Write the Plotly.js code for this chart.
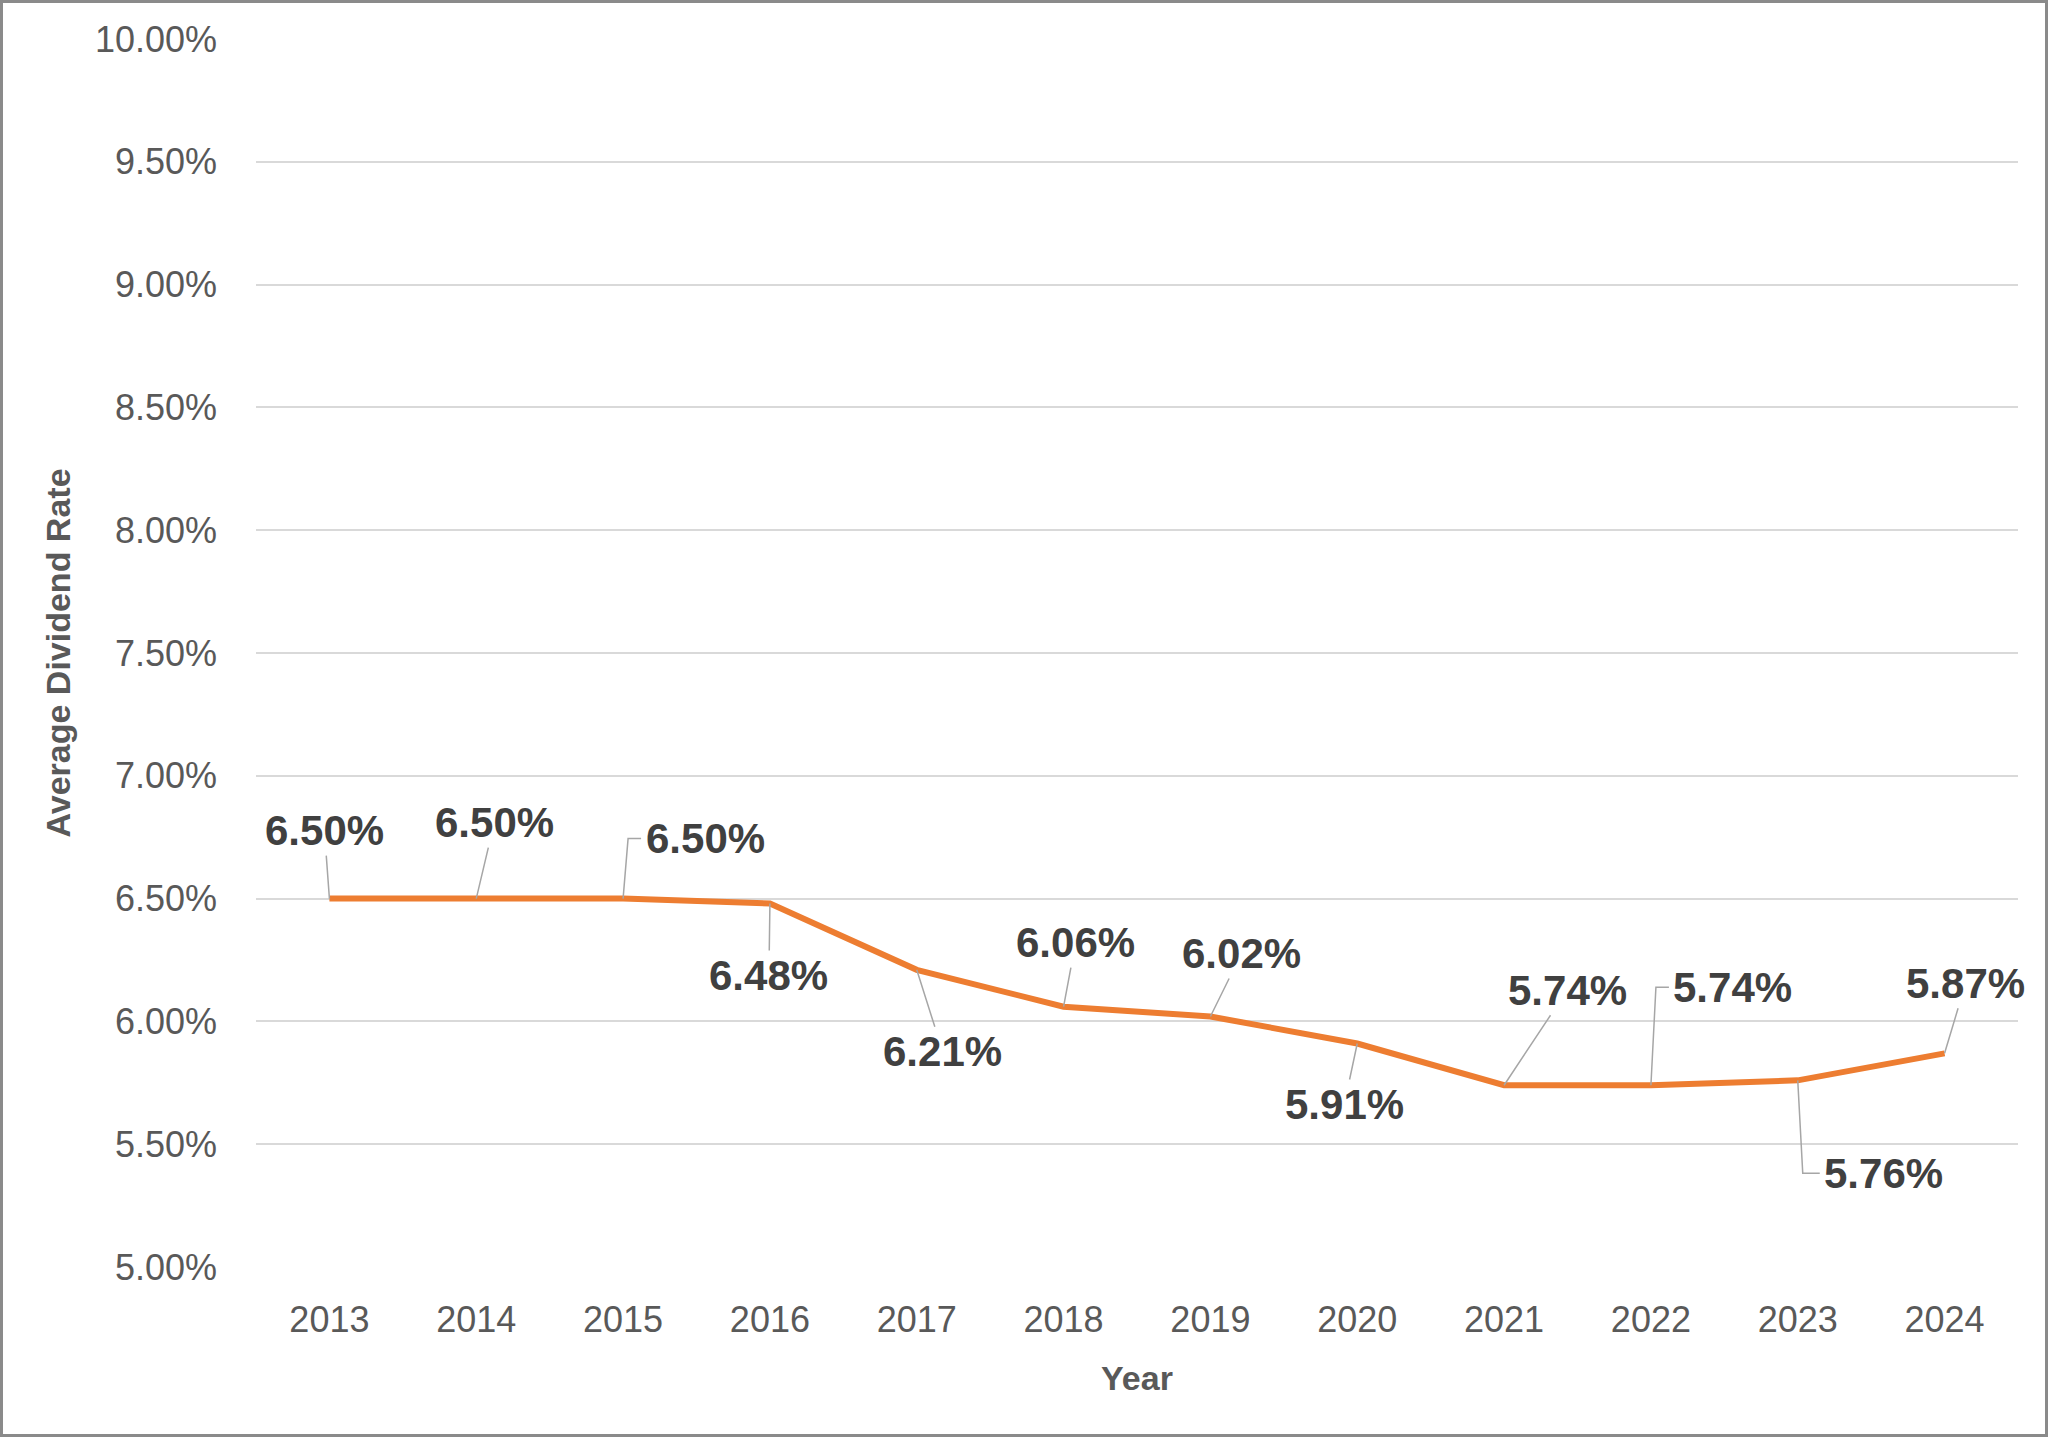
<!DOCTYPE html>
<html>
<head>
<meta charset="utf-8">
<script src="https://cdn.plot.ly/plotly-3.0.1.min.js"></script>
<style>
  html, body { margin: 0; padding: 0; background: #fff; }
  #chart {
    width: 2048px; height: 1437px; box-sizing: border-box;
    border: 3px solid #8a8a8a; background: #fff;
  }
</style>
</head>
<body>
<div id="chart"></div>
<script>
// values (percent)
const years = ['2013', '2014', '2015', '2016', '2017', '2018', '2019', '2020', '2021', '2022', '2023', '2024'];
const dividendRate = [6.50, 6.50, 6.50, 6.48, 6.21, 6.06, 6.02, 5.91, 5.74, 5.74, 5.76, 5.87];

// where each data label sits relative to its point, in px
const labelDx = [-5, 18, 82, -1, 26, 12, 31, -13, 63, 82, 86, 21];
const labelDy = [-68, -76, -60, 72, 82, -64, -63, 61, -95, -98, 93, -70];
// labels whose leader line bends (vertical then a short horizontal)
const elbowYears = ['2015', '2022', '2023'];

const trace = {
  x: years,
  y: dividendRate,
  type: 'scatter',
  mode: 'lines',
  line: { color: '#ED7D31', width: 6 },
  hoverinfo: 'x+y',
};

const labelFont = { family: 'Liberation Sans, Arial, sans-serif', size: 42, color: '#404040' };
const leaderColor = '#a6a6a6';

const labels = years.map((yr, i) => {
  const text = '<b>' + dividendRate[i].toFixed(2) + '%</b>';
  if (elbowYears.includes(yr)) {
    return {
      x: i, y: dividendRate[i], xref: 'x', yref: 'y',
      text, showarrow: false,
      xshift: labelDx[i], yshift: -labelDy[i],
      font: labelFont,
    };
  }
  return {
    x: i, y: dividendRate[i], xref: 'x', yref: 'y',
    text, showarrow: true,
    arrowhead: 0, arrowwidth: 1.5, arrowcolor: leaderColor,
    ax: labelDx[i], ay: labelDy[i],
    font: labelFont,
  };
});

// bent leader lines, drawn in pixels from the data point
const leaders = years.map((yr, i) => ({ yr, i })).filter((d) => elbowYears.includes(d.yr)).map(({ i }) => {
  const up = -labelDy[i];
  const end = labelDx[i] - 64;
  return {
    type: 'path',
    xref: 'x', yref: 'y',
    xsizemode: 'pixel', ysizemode: 'pixel',
    xanchor: i, yanchor: dividendRate[i],
    path: `M0,0 L5,${up} L${end},${up}`,
    line: { color: leaderColor, width: 1.5 },
  };
});

const layout = {
  width: 2042,
  height: 1431,
  margin: { l: 253, r: 27, t: 36, b: 167 },
  paper_bgcolor: '#ffffff',
  plot_bgcolor: '#ffffff',
  showlegend: false,
  font: { family: 'Liberation Sans, Arial, sans-serif', color: '#595959' },
  xaxis: {
    type: 'category',
    range: [-0.5, 11.5],
    showgrid: false,
    zeroline: false,
    showline: false,
    ticks: '',
    ticklabelstandoff: 28,
    tickfont: { size: 36, color: '#595959' },
    title: {
      text: 'Year',
      font: { size: 34, color: '#595959', weight: 'bold' },
      standoff: 27,
    },
  },
  yaxis: {
    range: [5, 10],
    dtick: 0.5,
    tick0: 5,
    tickformat: '.2f',
    ticksuffix: '%',
    showgrid: true,
    gridcolor: '#d9d9d9',
    gridwidth: 2,
    zeroline: false,
    showline: false,
    ticks: '',
    ticklabelstandoff: 38,
    tickfont: { size: 36, color: '#595959' },
    title: {
      text: 'Average Dividend Rate',
      font: { size: 34, color: '#595959', weight: 'bold' },
      standoff: 13,
    },
  },
  annotations: labels,
  shapes: leaders,
};

Plotly.newPlot('chart', [trace], layout, { displayModeBar: false, staticPlot: true });
</script>
</body>
</html>
